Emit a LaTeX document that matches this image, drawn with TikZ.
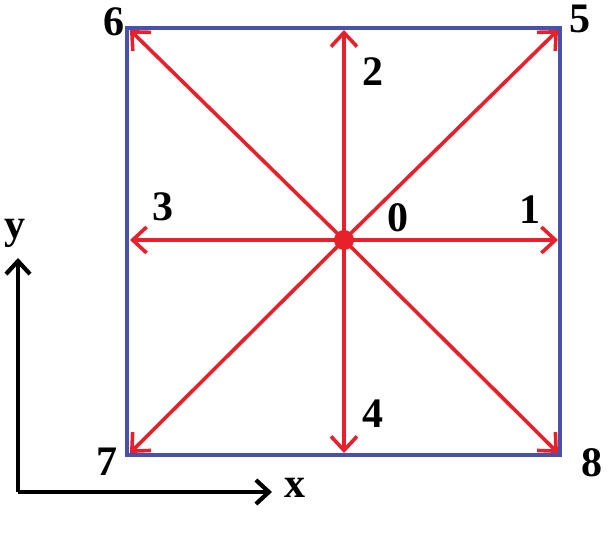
\documentclass[tikz,border=0pt]{standalone}
\usepackage{fontspec}
\setmainfont{Liberation Serif}
\usetikzlibrary{arrows.meta}

\definecolor{boxblue}{RGB}{72,82,170}
\definecolor{dirred}{RGB}{232,32,42}

\begin{document}
\begin{tikzpicture}[x=1pt,y=1pt]
\tikzset{
  lbl/.style={font=\fontsize{42}{42}\selectfont\bfseries, inner sep=0pt},
  dir/.style={draw=dirred, line width=3.6pt, -{Straight Barb[length=14pt,width=26pt,line width=3.6pt]}},
  axis/.style={draw=black, line width=4.2pt, -{Straight Barb[length=13pt,width=24pt,line width=4.2pt]}}
}
\useasboundingbox (0,0) rectangle (608,-534);
% lattice box
\draw [boxblue, line width=4.5pt] (127,-28) rectangle (560,-455);
% directions
\coordinate (c) at (344,-240);
\coordinate (e1) at (558,-240);
\coordinate (e2) at (344,-30);
\coordinate (e3) at (130,-240);
\coordinate (e4) at (344,-453);
\coordinate (e5) at (558,-30);
\coordinate (e6) at (130,-30);
\coordinate (e7) at (130,-453);
\coordinate (e8) at (558,-453);
\foreach \k in {1,...,8}
  \draw [dir] (c) -- (e\k);
\fill [dirred] (c) circle (10);
% labels
\node [lbl] (n0) at (398,-218) {0};
\node [lbl] (n1) at (530,-210) {1};
\node [lbl] (n2) at (373,-72) {2};
\node [lbl] (n3) at (163,-207) {3};
\node [lbl] (n4) at (373,-414) {4};
\node [lbl] (n5) at (580,-19) {5};
\node [lbl] (n6) at (114,-22) {6};
\node [lbl] (n7) at (107,-462) {7};
\node [lbl] (n8) at (592,-463) {8};
% axes
\coordinate (o) at (18,-492);
\coordinate (ytip) at (18,-258);
\coordinate (xtip) at (272,-492);
\draw [axis] (o) -- (ytip);
\draw [axis] (o) -- (xtip);
\node [lbl] (ny) at (15,-233) {y};
\node [lbl] (nx) at (295,-488) {x};
\end{tikzpicture}
\end{document}
